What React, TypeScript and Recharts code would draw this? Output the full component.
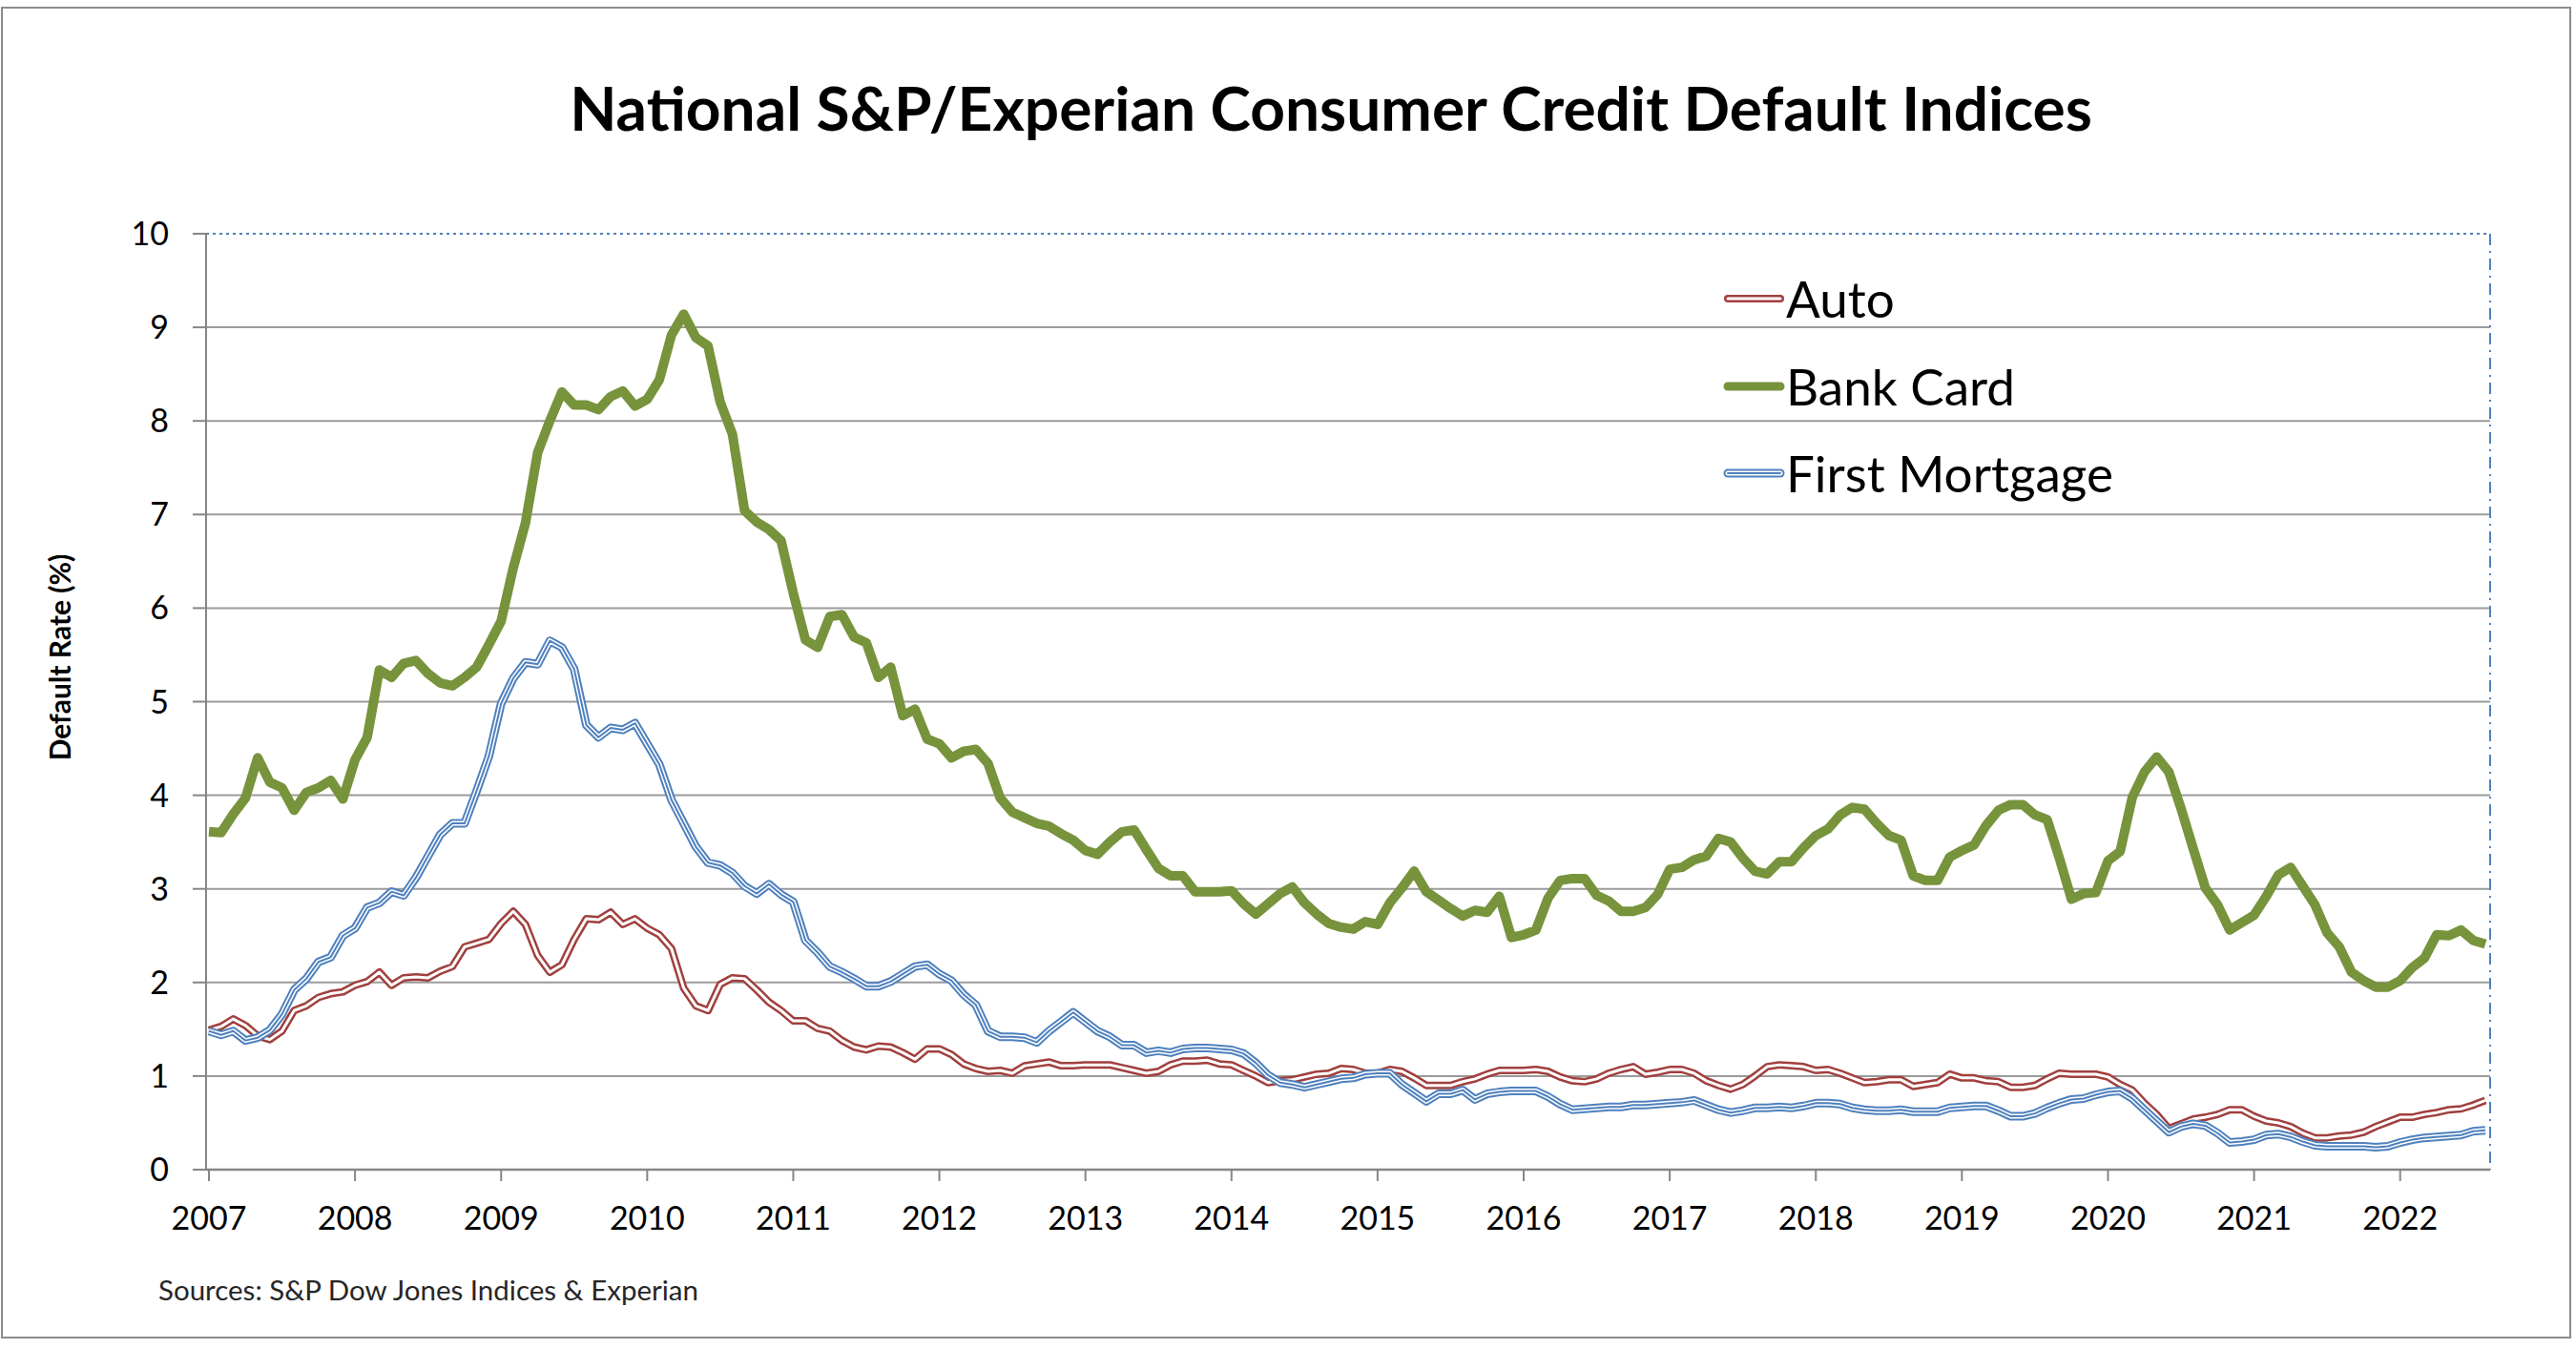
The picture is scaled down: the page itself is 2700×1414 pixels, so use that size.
import React from "react";
import { CartesianGrid, Legend, Line, LineChart, ReferenceLine, XAxis, YAxis } from "recharts";

// monthly readings, Jan 2007 .. Aug 2022
const years = [2007, 2008, 2009, 2010, 2011, 2012, 2013, 2014, 2015, 2016, 2017, 2018, 2019, 2020, 2021, 2022];
const monthNames = ["Jan", "Feb", "Mar", "Apr", "May", "Jun", "Jul", "Aug", "Sep", "Oct", "Nov", "Dec"];

const auto = [
  1.49, 1.53, 1.61, 1.54, 1.43, 1.39, 1.48, 1.7, 1.75, 1.84, 1.88, 1.9,
  1.97, 2.01, 2.11, 1.97, 2.05, 2.06, 2.05, 2.12, 2.17, 2.38, 2.42, 2.46,
  2.63, 2.76, 2.62, 2.29, 2.11, 2.19, 2.46, 2.68, 2.67, 2.75, 2.62, 2.68,
  2.58, 2.51, 2.36, 1.94, 1.75, 1.7, 1.98, 2.05, 2.04, 1.92, 1.79, 1.7,
  1.59, 1.59, 1.51, 1.48, 1.38, 1.31, 1.28, 1.32, 1.31, 1.25, 1.18, 1.29,
  1.29, 1.23, 1.13, 1.08, 1.05, 1.06, 1.03, 1.11, 1.13, 1.15, 1.11, 1.11,
  1.12, 1.12, 1.12, 1.09, 1.06, 1.03, 1.05, 1.12, 1.16, 1.16, 1.17, 1.13,
  1.12, 1.06, 1.0, 0.93, 0.95, 0.96, 0.99, 1.02, 1.03, 1.08, 1.07, 1.03,
  1.03, 1.07, 1.05, 0.98, 0.9, 0.9, 0.9, 0.94, 0.97, 1.02, 1.06, 1.06,
  1.06, 1.07, 1.05, 0.99, 0.95, 0.94, 0.97, 1.03, 1.07, 1.1, 1.02, 1.04,
  1.07, 1.07, 1.03, 0.95, 0.9, 0.86, 0.91, 1.0, 1.1, 1.12, 1.11, 1.1,
  1.06, 1.07, 1.03, 0.98, 0.93, 0.94, 0.96, 0.96, 0.89, 0.91, 0.93, 1.02,
  0.98, 0.98, 0.95, 0.94, 0.88, 0.88, 0.9, 0.97, 1.03, 1.02, 1.02, 1.02,
  0.99, 0.91, 0.85, 0.71, 0.59, 0.44, 0.49, 0.54, 0.56, 0.59, 0.64, 0.64,
  0.57, 0.52, 0.5, 0.46, 0.39, 0.34, 0.34, 0.36, 0.37, 0.4, 0.46, 0.51,
  0.56, 0.56, 0.59, 0.61, 0.64, 0.65, 0.69, 0.74
];

const bankCard = [
  3.61, 3.6, 3.8, 3.97, 4.4, 4.14, 4.08, 3.84, 4.03, 4.08, 4.16, 3.96,
  4.38, 4.62, 5.34, 5.26, 5.41, 5.44, 5.3, 5.2, 5.17, 5.26, 5.37, 5.61,
  5.86, 6.43, 6.91, 7.66, 8.0, 8.31, 8.17, 8.17, 8.12, 8.26, 8.32, 8.16,
  8.23, 8.44, 8.92, 9.14, 8.89, 8.8, 8.2, 7.86, 7.04, 6.92, 6.84, 6.72,
  6.16, 5.66, 5.58, 5.91, 5.93, 5.69, 5.63, 5.26, 5.37, 4.85, 4.92, 4.6,
  4.55, 4.4, 4.47, 4.49, 4.34, 3.97, 3.82, 3.76, 3.7, 3.67, 3.59, 3.52,
  3.41, 3.37, 3.5, 3.61, 3.63, 3.42, 3.22, 3.14, 3.14, 2.97, 2.97, 2.97,
  2.98, 2.84, 2.73, 2.84, 2.95, 3.02, 2.85, 2.73, 2.63, 2.59, 2.57, 2.65,
  2.62, 2.85, 3.01, 3.19, 2.97, 2.88, 2.79, 2.71, 2.77, 2.75, 2.92, 2.48,
  2.51, 2.56, 2.9, 3.09, 3.11, 3.11, 2.93, 2.87, 2.76, 2.76, 2.8, 2.94,
  3.21, 3.23, 3.31, 3.35, 3.54, 3.5, 3.33, 3.19, 3.16, 3.29, 3.29, 3.44,
  3.57, 3.64, 3.79, 3.87, 3.85, 3.7, 3.57, 3.52, 3.14, 3.09, 3.09, 3.34,
  3.41, 3.47, 3.68, 3.84, 3.9, 3.9, 3.79, 3.74, 3.33, 2.89, 2.95, 2.96,
  3.3, 3.4, 3.98, 4.25, 4.41, 4.25, 3.86, 3.43, 3.01, 2.83, 2.56, 2.64,
  2.72, 2.92, 3.15, 3.23, 3.03, 2.83, 2.53, 2.38, 2.11, 2.02, 1.95, 1.95,
  2.02, 2.16, 2.26, 2.51, 2.5, 2.56, 2.45, 2.41
];

const firstMortgage = [
  1.48, 1.44, 1.48, 1.38, 1.41, 1.49, 1.66, 1.92, 2.04, 2.22, 2.27, 2.5,
  2.58, 2.8, 2.85, 2.97, 2.93, 3.12, 3.35, 3.58, 3.7, 3.7, 4.05, 4.42,
  4.98, 5.25, 5.42, 5.4, 5.65, 5.58, 5.35, 4.75, 4.62, 4.72, 4.7, 4.77,
  4.55, 4.33, 3.95, 3.7, 3.45, 3.28, 3.25, 3.17, 3.03, 2.95, 3.05, 2.94,
  2.86, 2.45, 2.32, 2.17, 2.11, 2.04, 1.96, 1.96, 2.01, 2.09, 2.17, 2.19,
  2.09, 2.02, 1.87, 1.76, 1.48, 1.42, 1.42, 1.41, 1.36, 1.48, 1.58, 1.68,
  1.58, 1.48, 1.42, 1.33, 1.33, 1.25, 1.27, 1.25, 1.29, 1.3, 1.3, 1.29,
  1.28, 1.24, 1.14, 1.01, 0.93, 0.91, 0.88, 0.91, 0.94, 0.97, 0.98, 1.02,
  1.03, 1.03, 0.91, 0.82, 0.73, 0.81, 0.81, 0.85, 0.75, 0.81, 0.83, 0.84,
  0.84, 0.84, 0.78, 0.7, 0.64, 0.65, 0.66, 0.67, 0.67, 0.69, 0.69, 0.7,
  0.71, 0.72, 0.74, 0.69, 0.64, 0.61, 0.63, 0.66, 0.66, 0.67, 0.66, 0.68,
  0.71, 0.71, 0.7, 0.66, 0.64, 0.63, 0.63, 0.64, 0.62, 0.62, 0.62, 0.66,
  0.67, 0.68, 0.68, 0.63, 0.57, 0.57, 0.6, 0.66, 0.71, 0.75, 0.76, 0.8,
  0.83, 0.84, 0.76, 0.64, 0.52, 0.4, 0.46, 0.49, 0.47, 0.39, 0.29, 0.3,
  0.32, 0.37, 0.38, 0.35, 0.3, 0.26, 0.25, 0.25, 0.25, 0.25, 0.24, 0.25,
  0.29, 0.32, 0.34, 0.35, 0.36, 0.37, 0.41, 0.42
];

const yTicks = [0, 1, 2, 3, 4, 5, 6, 7, 8, 9, 10];

const RED = "#a0403e";
const GREEN = "#77933c";
const BLUE = "#4f81bd";
const FONT = "Lato, 'Noto Sans', sans-serif";

const months: string[] = [];
years.forEach((y) => monthNames.forEach((m) => months.push(`${m} ${y}`)));

const data = bankCard.map((v, i) => ({
  month: months[i],
  auto: auto[i],
  bankCard: v,
  firstMortgage: firstMortgage[i]
}));

const legendItems = [
  { name: "Auto", kind: "auto" },
  { name: "Bank Card", kind: "card" },
  { name: "First Mortgage", kind: "mortgage" }
];

function Swatch({ kind }: { kind: string }) {
  return (
    <svg width={76} height={92} style={{ display: "block" }}>
      {kind === "auto" && (
        <>
          <line x1={15} x2={70} y1={46} y2={46} stroke={RED} strokeWidth={8} strokeLinecap="round" />
          <line x1={15} x2={70} y1={46} y2={46} stroke="#fff" strokeWidth={3} strokeLinecap="round" />
        </>
      )}
      {kind === "card" && (
        <line x1={15} x2={70} y1={46} y2={46} stroke={GREEN} strokeWidth={9} strokeLinecap="round" />
      )}
      {kind === "mortgage" && (
        <>
          <line x1={15} x2={70} y1={46} y2={46} stroke={BLUE} strokeWidth={9} strokeLinecap="round" />
          <line x1={15} x2={70} y1={46} y2={46} stroke="#fff" strokeWidth={5} strokeLinecap="round" />
          <line x1={15} x2={70} y1={46} y2={46} stroke={BLUE} strokeWidth={2} strokeLinecap="round" />
        </>
      )}
    </svg>
  );
}

function LegendBox() {
  return (
    <div>
      {legendItems.map((it) => (
        <div key={it.name} style={{ display: "flex", height: 91.5, alignItems: "flex-start" }}>
          <Swatch kind={it.kind} />
          <span style={{ fontFamily: FONT, fontSize: 53, lineHeight: "91.5px", color: "#000", marginLeft: 0 }}>
            {it.name}
          </span>
        </div>
      ))}
    </div>
  );
}

export default function App() {
  return (
    <div style={{ position: "absolute", left: 0, top: 0, width: 2700, height: 1414, background: "#fff" }}>
      <div
        style={{
          position: "absolute",
          left: 1,
          top: 7,
          width: 2694,
          height: 1396,
          border: "2px solid #8c8c8c",
          boxSizing: "border-box"
        }}
      />
      <div
        style={{
          position: "absolute",
          left: 0,
          top: 81,
          width: 2790,
          textAlign: "center",
          fontFamily: FONT,
          fontWeight: 700,
          fontSize: 64,
          lineHeight: "64px",
          color: "#000"
        }}
      >
        National S&amp;P/Experian Consumer Credit Default Indices
      </div>
      <div
        style={{
          position: "absolute",
          left: 62,
          top: 689,
          transform: "translate(-50%, -50%) rotate(-90deg)",
          whiteSpace: "nowrap",
          fontFamily: FONT,
          fontWeight: 700,
          fontSize: 30,
          color: "#000"
        }}
      >
        Default Rate (%)
      </div>
      <div
        style={{
          position: "absolute",
          left: 166,
          top: 1337,
          fontFamily: FONT,
          fontSize: 29.5,
          lineHeight: "29.5px",
          color: "#262626"
        }}
      >
        Sources: S&amp;P Dow Jones Indices &amp; Experian
      </div>

      <div style={{ position: "absolute", left: 0, top: 0 }}>
        <LineChart width={2700} height={1414} data={data} margin={{ top: 245, right: 88, bottom: 108, left: 96 }}>
          <CartesianGrid yAxisId="left" vertical={false} stroke="#9b9b9b" strokeWidth={2} />
          <XAxis
            dataKey="month"
            interval={11}
            tickFormatter={(v: string) => v.slice(-4)}
            tick={{ fontFamily: FONT, fontSize: 34, fill: "#000" }}
            tickLine={{ stroke: "#868686", strokeWidth: 2 }}
            tickSize={12}
            tickMargin={27}
            axisLine={{ stroke: "#868686", strokeWidth: 2.5 }}
            height={80}
            padding={{ left: 3, right: 5 }}
          />
          <YAxis
            yAxisId="left"
            domain={[0, 10]}
            ticks={yTicks}
            interval={0}
            tick={{ fontFamily: FONT, fontSize: 34, fill: "#000" }}
            tickLine={{ stroke: "#868686", strokeWidth: 2 }}
            tickSize={14}
            tickMargin={25}
            axisLine={{ stroke: "#868686", strokeWidth: 2 }}
            width={120}
          />
          <YAxis
            yAxisId="right"
            orientation="right"
            domain={[0, 10]}
            tick={false}
            tickLine={false}
            axisLine={{ stroke: BLUE, strokeWidth: 2, strokeDasharray: "12 6 2 6" }}
            width={2}
          />
          <ReferenceLine yAxisId="left" y={10} stroke="#fff" strokeWidth={4} />
          <ReferenceLine yAxisId="left" y={10} stroke={BLUE} strokeWidth={2} strokeDasharray="3 4" />
          <Legend
            layout="vertical"
            align="center"
            verticalAlign="middle"
            content={() => <LegendBox />}
            wrapperStyle={{ position: "absolute", left: 1796, top: 267, width: 700 }}
          />

          <Line yAxisId="left" dataKey="auto" name="Auto" stroke={RED} strokeWidth={8} dot={false} activeDot={false} strokeLinejoin="round" isAnimationActive={false} />
          <Line yAxisId="left" dataKey="auto" name="Auto inner" stroke="#fff" strokeWidth={3} dot={false} activeDot={false} strokeLinejoin="round" legendType="none" isAnimationActive={false} />
          <Line yAxisId="left" dataKey="bankCard" name="Bank Card" stroke={GREEN} strokeWidth={10} dot={false} activeDot={false} strokeLinejoin="round" isAnimationActive={false} />
          <Line yAxisId="left" dataKey="firstMortgage" name="First Mortgage" stroke={BLUE} strokeWidth={9} dot={false} activeDot={false} strokeLinejoin="round" isAnimationActive={false} />
          <Line yAxisId="left" dataKey="firstMortgage" name="Mortgage gap" stroke="#fff" strokeWidth={5} dot={false} activeDot={false} strokeLinejoin="round" legendType="none" isAnimationActive={false} />
          <Line yAxisId="left" dataKey="firstMortgage" name="Mortgage core" stroke={BLUE} strokeWidth={2} dot={false} activeDot={false} strokeLinejoin="round" legendType="none" isAnimationActive={false} />
        </LineChart>
      </div>
    </div>
  );
}
